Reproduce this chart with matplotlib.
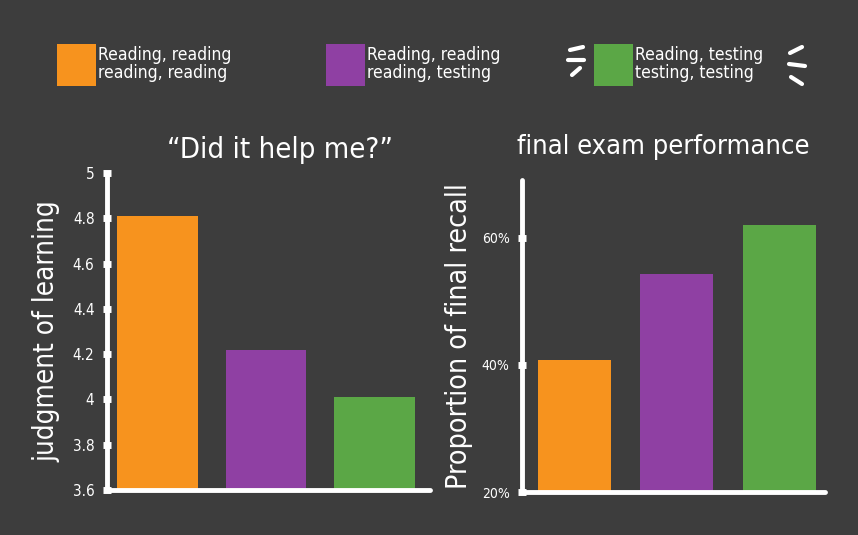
import matplotlib.pyplot as plt
from matplotlib.patches import Rectangle

plt.rcParams['font.family'] = ['DejaVu Sans']
plt.rcParams['font.stretch'] = 'condensed'

# data
groups = ['Reading, reading\nreading, reading',
          'Reading, reading\nreading, testing',
          'Reading, testing\ntesting, testing']
colors = ['#f7931e', '#8f40a3', '#5ba746']
jol = [4.81, 4.22, 4.01]
recall = [40.8, 54.3, 62.0]
jol_ticks = [3.6, 3.8, 4.0, 4.2, 4.4, 4.6, 4.8, 5.0]
jol_labels = ['3.6', '3.8', '4', '4.2', '4.4', '4.6', '4.8', '5']
recall_ticks = [20, 40, 60]
recall_labels = ['20%', '40%', '60%']

bg = '#3d3d3d'
fg = 'white'

fig = plt.figure(figsize=(8.58, 5.35), dpi=100)
fig.patch.set_facecolor(bg)


def style_axes(ax):
    ax.set_facecolor(bg)
    for s in ['top', 'right']:
        ax.spines[s].set_visible(False)
    for s in ['left', 'bottom']:
        ax.spines[s].set_color(fg)
        ax.spines[s].set_linewidth(3.5)
        ax.spines[s].set_capstyle('round')
    ax.set_xticks([])
    ax.tick_params(axis='y', colors=fg, length=6, width=5, direction='inout',
                   labelsize=11, pad=6)


# left panel: judgment of learning
ax1 = fig.add_axes([107 / 858, 1 - 490 / 535, 323 / 858, 317 / 535])
style_axes(ax1)
ax1.bar(range(3), [v - 3.6 for v in jol], bottom=3.6, width=0.74, color=colors)
ax1.set_xlim(-0.465, 2.51)
ax1.set_ylim(3.6, 5.0)
ax1.set_yticks(jol_ticks)
ax1.set_yticklabels(jol_labels)
ax1.set_ylabel('judgment of learning', color=fg, fontsize=20, labelpad=9)
ax1.set_title('\u201cDid it help me?\u201d', color=fg, fontsize=21, pad=11, x=0.536)

# right panel: final recall
ax2 = fig.add_axes([522 / 858, 1 - 492 / 535, 303 / 858, 312 / 535])
style_axes(ax2)
ax2.bar(range(3), [v - 20 for v in recall], bottom=20, width=0.71, color=colors)
ax2.set_xlim(-0.506, 2.44)
ax2.set_ylim(20, 69.1)
ax2.set_yticks(recall_ticks)
ax2.set_yticklabels(recall_labels)
ax2.tick_params(axis='y', labelsize=10)
ax2.set_ylabel('Proportion of final recall', color=fg, fontsize=20.5, labelpad=6)
ax2.set_title('final exam performance', color=fg, fontsize=19.5, pad=19, x=0.465)

# legend row
box_x = [57, 326, 594]
for x0, c, lab in zip(box_x, colors, groups):
    fig.patches.append(Rectangle((x0 / 858, 1 - 86 / 535), 39 / 858, 42 / 535,
                                 transform=fig.transFigure, facecolor=c,
                                 edgecolor='none'))
    fig.text((x0 + 41) / 858, 1 - 64 / 535, lab, color=fg, fontsize=12.5,
             va='center', ha='left', linespacing=1.05)

# little emphasis strokes around the last legend entry
strokes = [((570, 50), (583, 47)), ((568, 60), (584, 60)), ((572, 75), (580, 68)),
           ((790, 53), (802, 47)), ((789, 64), (805, 66)), ((791, 77), (802, 84))]
for (xa, ya), (xb, yb) in strokes:
    fig.add_artist(plt.Line2D([xa / 858, xb / 858], [1 - ya / 535, 1 - yb / 535],
                              transform=fig.transFigure, color=fg, lw=3,
                              solid_capstyle='round'))

fig.savefig('out.png', dpi=100, facecolor=bg)
